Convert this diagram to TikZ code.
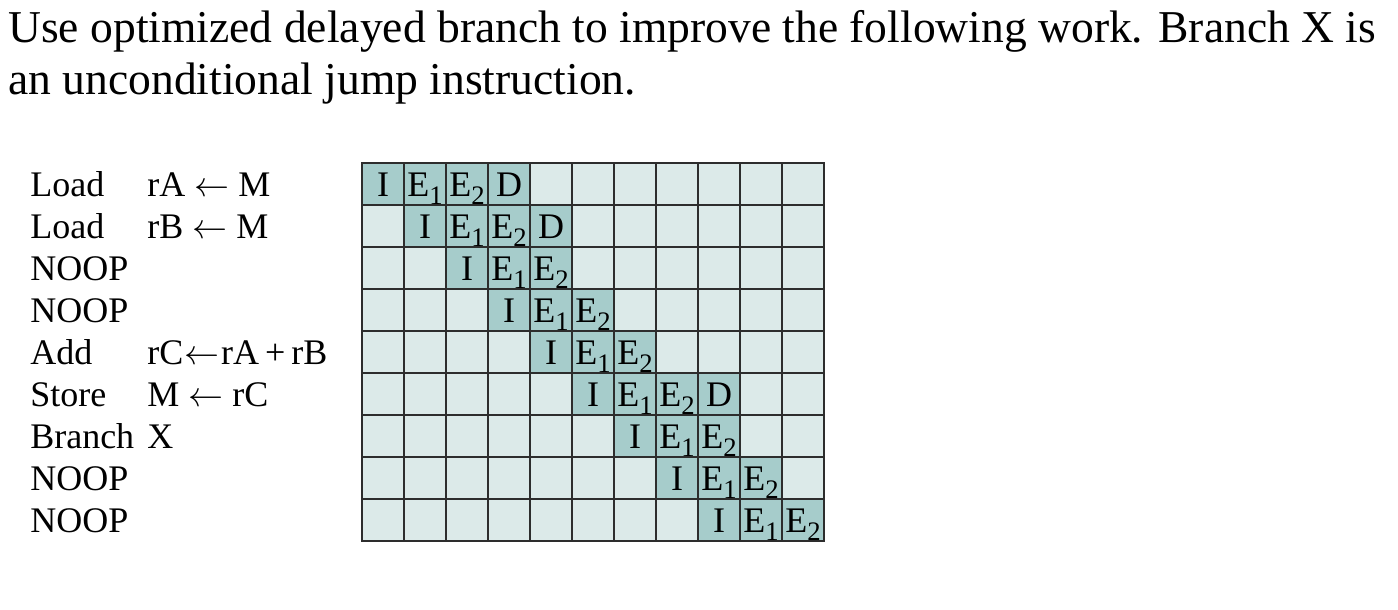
\documentclass[tikz,border=0pt]{standalone}
\usepackage{fontspec}
\setmainfont{Liberation Serif}
\usetikzlibrary{positioning}
\definecolor{cellgray}{RGB}{220,234,233}
\definecolor{cellteal}{RGB}{166,204,203}
\definecolor{gridline}{RGB}{45,45,45}
\tikzset{cell/.style = {draw = gridline, line width = 1.7pt, fill = cellgray, shape = rectangle,
                        inner sep = 0, outer sep = 0, minimum size = 1.05cm,
                        text height = 18.4pt, text depth = 0pt, font = \fontsize{25.6}{30}\selectfont}}
\tikzset{busy/.style = {cell, fill = cellteal}}
\tikzset{instr/.style = {anchor = base west, inner sep = 0, font = \fontsize{25.6}{30}\selectfont}}
\tikzset{heading/.style = {anchor = base west, inner sep = 0, font = \fontsize{32.4}{39}\selectfont}}
\newcommand{\sub}[1]{\raisebox{-5.5pt}{\fontsize{19}{19}\selectfont #1}}
\newcommand{\stagetext}[1]{\ifcase#1\or I\or E\sub{1}\or E\sub{2}\or D\fi}

\begin{document}
\begin{tikzpicture}[x = 0.025cm, y = -0.025cm]
  \useasboundingbox (0, 0) rectangle (1398, 610);
  \node [heading] (line1) at (8, 43) {Use optimized delayed branch to improve the following work. Branch X is};
  \node [heading] (line2) at (8, 95) {an unconditional jump instruction.};

  \foreach \row in {0, ..., 8}
    \foreach \col in {0, ..., 10}
      \node [cell] (c-\row-\col) at ({383 + 42*\col}, {184 + 42*\row}) {};

  \foreach \row/\n in {0/4, 1/4, 2/3, 3/3, 4/3, 5/4, 6/3, 7/3, 8/3}
    \foreach \k in {1, ..., \n} {
      \pgfmathtruncatemacro{\col}{\row + \k - 1}
      \node [busy] (s-\row-\col) at (c-\row-\col) {\stagetext{\k}};
    }

  \draw [draw = gridline, line width = 1.9pt] (c-0-0.north west) rectangle (c-8-10.south east);

  \foreach \row/\op/\arg in {0/Load/{rA $\leftarrow$ M}, 1/Load/{rB $\leftarrow$ M}, 2/NOOP/{}, 3/NOOP/{},
                             4/Add/{rC\hspace{1pt}$\leftarrow$\hspace{1pt}rA\thinspace+\thinspace rB},
                             5/Store/{M $\leftarrow$ rC}, 6/Branch/X, 7/NOOP/{}, 8/NOOP/{}} {
    \node [instr] (op-\row) at (30, {196 + 42*\row}) {\op};
    \node [instr] (arg-\row) at (147, {196 + 42*\row}) {\arg};
  }
\end{tikzpicture}
\end{document}
